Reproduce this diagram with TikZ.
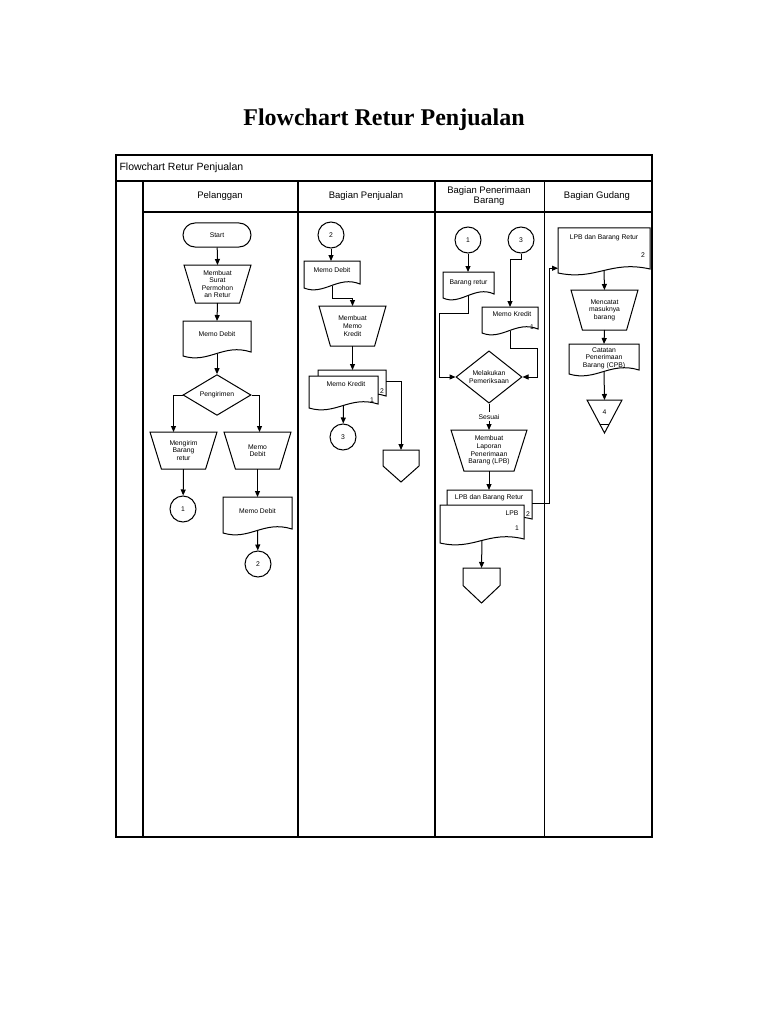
\documentclass[tikz,border=0pt]{standalone}
\usepackage{fontspec}
\setsansfont{Liberation Sans}
\setmainfont{Liberation Serif}
\usetikzlibrary{shapes.geometric,arrows.meta}
\tikzset{
 shp/.style={draw,line width=1pt,fill=white},
 ln/.style={line width=1pt},
 arr/.style={ln,-{Triangle[length=6pt,width=5pt]}},
 txt/.style={font=\sffamily\fontsize{6.8}{7.6}\selectfont,align=center,inner sep=0pt},
 hdr/.style={font=\sffamily\fontsize{9.5}{10.5}\selectfont,align=center},
 box/.style={inner sep=0pt,outer sep=0pt},
 circ/.style={draw,circle,line width=1pt,minimum size=26pt,inner sep=0pt,font=\sffamily\fontsize{6.8}{7}\selectfont,fill=white},
 frame/.style={line width=1.4pt}
}
\newcommand\mydoc[7]{%
 \draw[shp] (#2,#3) -- (#4,#3) -- (#4,{#5-6}) .. controls ({(#2+#4)/2+6},{#5-15}) and ({(#2+#4)/2-8},{#5+6}) .. (#2,{#5-2}) -- cycle;
 \node[box,minimum width={#4-#2},minimum height={#5-#3-4.5}] (#1) at ({(#2+#4)/2},{(#3+#5-4.5)/2}) {};
 \node[txt] at ({(#2+#4)/2},{(#3+#5)/2+#7}) {#6};}
\newcommand\myman[6]{%
 \draw[shp] (#2,#3) -- (#4,#3) -- ({#4-0.17*(#4-#2)},#5) -- ({#2+0.17*(#4-#2)},#5) -- cycle;
 \node[box,minimum width={#4-#2},minimum height={#5-#3}] (#1) at ({(#2+#4)/2},{(#3+#5)/2}) {};
 \node[txt] at ({(#2+#4)/2},{(#3+#5)/2}) {#6};}
\newcommand\myoff[5]{%
 \draw[shp] (#2,#3) -- (#4,#3) -- (#4,{#3+0.5*(#5-#3)}) -- ({(#2+#4)/2},#5) -- (#2,{#3+0.5*(#5-#3)}) -- cycle;
 \node[box,minimum width={#4-#2},minimum height={#5-#3}] (#1) at ({(#2+#4)/2},{(#3+#5)/2}) {};}
\begin{document}
\begin{tikzpicture}[x=1pt,y=-1pt]
\useasboundingbox[fill=white] (0,0) rectangle (768,1024);
\node[font=\rmfamily\bfseries\fontsize{24}{28}\selectfont] (title) at (384,120) {Flowchart Retur Penjualan};
\draw[frame] (116,155) rectangle (652,837);
\draw[frame] (116,181) -- (652,181);
\draw[frame] (143,212) -- (652,212);
\draw[frame] (143,181) -- (143,837);
\draw[frame] (298,181) -- (298,837);
\draw[frame] (435,181) -- (435,837);
\draw[line width=0.8pt] (544,181) -- (544,837);
\node[hdr,anchor=west,font=\sffamily\fontsize{10.5}{12}\selectfont] (ftitle) at (116,168) {Flowchart Retur Penjualan};
\node[hdr] (h1) at (220,196) {Pelanggan};
\node[hdr] (h2) at (366,196) {Bagian Penjualan};
\node[hdr] (h3) at (489,196) {Bagian Penerimaan\\Barang};
\node[hdr] (h4) at (597,196) {Bagian Gudang};
% Pelanggan
\node[draw,line width=1pt,rounded corners=12pt,minimum width=68pt,minimum height=24pt,txt] (start) at (217,235) {Start};
\myman{m1}{184}{265}{251}{303}{Membuat\\Surat\\Permohon\\an Retur}
\mydoc{d1}{183}{321}{251}{358}{Memo Debit}{-5}
\node[draw,diamond,line width=1pt,minimum width=68pt,minimum height=36pt,inner sep=0pt,txt] (k1) at (217,395) {Pengirimen};
\myman{m2}{150}{432}{217}{469}{Mengirim\\Barang\\retur}
\myman{m3}{224}{432}{291}{469}{Memo\\Debit}
\node[circ] (c1) at (183,509) {1};
\mydoc{d2}{223}{497}{292}{535}{Memo Debit}{-5}
\node[circ] (c2) at (258,564) {2};
\draw[arr] (start) -- (m1.north);
\draw[arr] (m1.south) -- (d1.north);
\draw[arr] (d1.south) -- (k1.north);
\draw[arr] (k1.west) -| ([xshift=-10]m2.north);
\draw[arr] (k1.east) -| ([xshift=2]m3.north);
\draw[arr] (m2.south) -- (c1);
\draw[arr] (m3.south) -- (d2.north);
\draw[arr] (d2.south) -- (c2);
% Penjualan
\node[circ] (c2b) at (331,235) {2};
\mydoc{d3}{304}{261}{360}{290}{Memo Debit}{-5}
\myman{m4}{319}{306}{386}{346}{Membuat\\Memo\\Kredit}
\mydoc{d4b}{318}{370}{386}{402}{}{0}
\mydoc{d4f}{309}{376}{378}{410}{}{0}
\node[txt] (t4) at (346,384) {Memo Kredit};
\node[txt] (t41) at (372,400) {1};
\node[txt] (t42) at (382,391) {2};
\node[circ] (c3) at (343,437) {3};
\myoff{o1}{383}{450}{419}{482}
\draw[arr] (c2b) -- (c2b|-d3.north);
\draw[arr] (d3.south) -- ++(0,13) -| (m4.north);
\draw[arr] (m4.south) -- (m4.south|-d4b.north);
\draw[arr] (d4f.south) -- (c3);
\draw[arr] ([yshift=2]d4b.east) -| (o1.north);
% Penerimaan
\node[circ] (c1b) at (468,240) {1};
\node[circ] (c3b) at (521,240) {3};
\mydoc{d5}{443}{272}{494}{300}{Barang retur}{-3}
\mydoc{d6}{482}{307}{538}{335}{}{0}
\node[txt] (t6) at (512,314) {Memo Kredit};
\node[txt] (t61) at (532,327) {1};
\node[draw,diamond,line width=1pt,minimum width=66pt,minimum height=36pt,inner sep=0pt,txt,fill=white] (k2) at (489,377) {Melakukan\\Pemeriksaan};
\coordinate (q1) at (439,313);
\coordinate (q2) at (537,348);
\draw[arr] (c1b) -- (c1b|-d5.north);
\draw[arr] (c3b) -- ++(0,19) -| (d6.north);
\draw[arr] (d5.south) |- (q1) |- (k2.west);
\draw[arr] (d6.south) |- (q2) |- (k2.east);
\myman{m5}{451}{430}{527}{471}{Membuat\\Laporan\\Penerimaan\\Barang (LPB)}
\draw[arr] (k2.south) -- node[txt,fill=white,inner sep=2pt]{Sesuai} (m5.north);
\mydoc{d7b}{447}{490}{532}{525}{}{0}
\mydoc{d7f}{440}{505}{524}{545}{}{0}
\node[txt] (t7) at (489,498) {LPB dan Barang Retur};
\node[txt] (t7a) at (512,513) {LPB};
\node[txt] (t7b) at (528,514) {2};
\node[txt] (t7c) at (517,528) {1};
\myoff{o2}{463}{568}{500}{603}
\draw[arr] (m5.south) -- (m5.south|-d7b.north);
\draw[arr] (d7f.south) -- (o2.north);
% Gudang
\mydoc{g1}{558}{228}{650}{275}{}{0}
\node[txt] (tg1) at (604,238) {LPB dan Barang Retur};
\node[txt] (tg2) at (643,255) {2};
\myman{m6}{571}{290}{638}{330}{Mencatat\\masuknya\\barang}
\mydoc{g2}{569}{344}{639}{376}{Catatan\\Penerimaan\\Barang (CPB)}{-2}
\draw[shp] (587,400) -- (622,400) -- (604.5,433) -- cycle;
\draw[ln] (600,424) -- (609,424);
\node[box,minimum width=35pt,minimum height=33pt] (f4) at (604.5,416.5) {};
\node[txt] (t4f) at (604.5,412) {4};
\draw[arr] ([yshift=2]d7b.east) -- ++(17,0) |- ([yshift=-19]g1.west);
\draw[arr] (g1.south) -- (m6.north);
\draw[arr] (m6.south) -- (g2.north);
\draw[arr] (g2.south) -- (f4.north);
\end{tikzpicture}
\end{document}
